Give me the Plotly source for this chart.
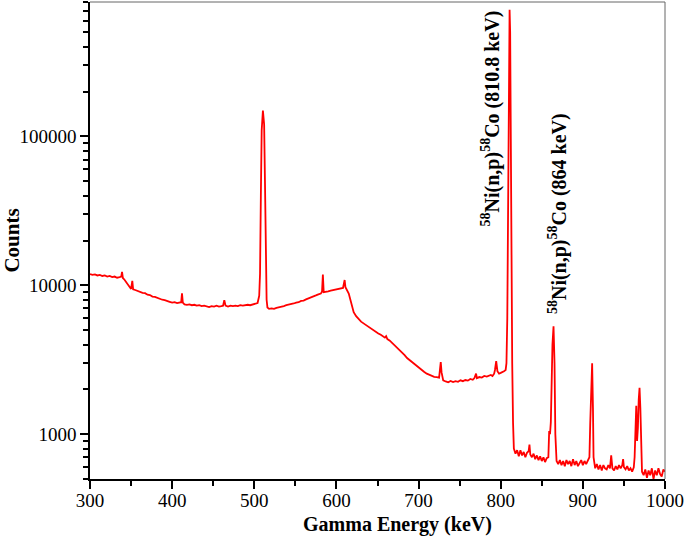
import plotly.graph_objects as go

energy_kev = [
    300, 303, 306, 309, 312, 315, 318, 321, 324, 327, 330, 333, 336, 338, 339, 340,
    342, 345, 348, 350, 351.5, 352.5, 355, 358, 361, 364, 367, 370, 373, 376, 379, 382,
    385, 388, 391, 394, 397, 400, 403, 406, 409, 411, 412, 413, 415, 418, 421, 424,
    427, 430, 433, 436, 439, 442, 445, 448, 451, 454, 457, 460, 462, 463.5, 465, 468,
    471, 474, 477, 480, 483, 486, 489, 492, 495, 498, 501, 504, 506, 507, 508, 509,
    510.5, 512, 513, 514, 515, 516, 518, 521, 524, 527, 530, 533, 536, 539, 542, 545,
    548, 551, 554, 557, 560, 563, 566, 569, 572, 575, 578, 581, 582.5, 583.5, 584.5, 587,
    590, 593, 596, 599, 602, 605, 608, 609, 610, 611, 613, 615, 617, 619, 621, 624,
    627, 630, 633, 636, 639, 642, 645, 648, 651, 654, 657, 659, 660.5, 662, 665, 668,
    671, 674, 677, 680, 683, 686, 689, 692, 695, 698, 701, 704, 707, 710, 713, 716,
    719, 722, 725, 726, 727, 728, 730, 733, 736, 739, 742, 745, 748, 751, 754, 757,
    760, 763, 766, 768, 770, 771, 774, 777, 780, 783, 786, 788, 790, 792, 793, 794.5,
    796, 798, 800, 802, 804, 806, 807, 808, 809, 810, 810.8, 811.5, 812, 813, 814, 815,
    816, 818, 820, 822, 824, 826, 828, 830, 832, 834, 835, 836, 838, 840, 842, 844,
    846, 848, 850, 852, 854, 856, 858, 859, 860, 861, 862, 863, 864.3, 865.5, 866.5, 868,
    870, 872, 874, 876, 878, 880, 882, 884, 886, 888, 890, 892, 894, 896, 898, 900,
    902, 904, 906, 908, 909, 910, 911.3, 912.3, 913, 915, 917, 919, 921, 923, 925, 927,
    929, 931, 933, 934.5, 936, 938, 940, 942, 944, 946, 948, 949, 950, 952, 954, 956,
    958, 960, 962, 963, 964, 965, 966, 967, 968, 969, 970, 971, 972, 974, 976, 978,
    980, 982, 984, 986, 988, 990, 992, 994, 996, 998, 1000,
]

counts = [
    11900, 11750, 11850, 11650, 11750, 11550, 11650, 11450, 11550, 11350, 11450, 11250, 11350, 11450, 12300, 11200,
    10900, 10300, 9700, 9450, 10700, 9400, 9300, 9150, 9100, 8900, 8850, 8650, 8600, 8400, 8350, 8200,
    8150, 8000, 7950, 7800, 7750, 7650, 7700, 7600, 7650, 7700, 8850, 7650, 7450, 7400, 7450, 7350,
    7400, 7300, 7350, 7250, 7300, 7200, 7150, 7250, 7200, 7300, 7200, 7250, 7300, 7950, 7300, 7200,
    7300, 7250, 7300, 7250, 7350, 7300, 7350, 7400, 7350, 7450, 7500, 7600, 8500, 12000, 40000, 110000,
    149000, 120000, 50000, 15000, 8000, 7100, 6950, 7000, 6950, 7050, 7100, 7200, 7250, 7350, 7400, 7500,
    7550, 7650, 7700, 7850, 7900, 8050, 8150, 8300, 8400, 8550, 8700, 8800, 9100, 11800, 9000, 9000,
    9100, 9200, 9300, 9350, 9450, 9500, 9600, 10200, 10850, 9700, 9300, 8800, 8000, 7200, 6600, 6200,
    5900, 5700, 5550, 5400, 5250, 5100, 5000, 4850, 4750, 4650, 4550, 4450, 4550, 4350, 4250, 4100,
    3950, 3800, 3650, 3500, 3400, 3250, 3150, 3050, 2950, 2850, 2750, 2700, 2620, 2550, 2500, 2480,
    2430, 2420, 2400, 2700, 3050, 2600, 2300, 2260, 2230, 2280, 2240, 2270, 2250, 2300, 2270, 2310,
    2290, 2350, 2320, 2380, 2550, 2380, 2420, 2400, 2460, 2440, 2480, 2500, 2460, 2550, 2700, 3100,
    2650, 2550, 2580, 2600, 2650, 2700, 3000, 6000, 60000, 400000, 710000, 500000, 150000, 20000, 3000, 1200,
    800, 740, 780, 710, 780, 720, 760, 700, 750, 770, 850, 730, 700, 740, 680, 720,
    670, 710, 660, 700, 650, 690, 700, 1050, 1000, 1200, 2500, 4000, 5300, 3000, 1000, 660,
    630, 670, 620, 660, 610, 670, 630, 660, 610, 680, 620, 660, 610, 640, 670, 620,
    660, 630, 670, 700, 1200, 2200, 3000, 1500, 700, 590, 630, 580, 620, 570, 620, 590,
    580, 620, 590, 720, 590, 570, 610, 580, 620, 590, 620, 680, 600, 580, 610, 570,
    590, 560, 600, 700, 1300, 1550, 900, 1100, 1700, 2050, 1500, 700, 560, 530, 580, 510,
    570, 530, 590, 500, 570, 530, 590, 540, 520, 580, 560,
]

x_tick_vals = [300, 400, 500, 600, 700, 800, 900, 1000]
x_minor_vals = [350, 450, 550, 650, 750, 850, 950]
y_tick_vals = [1000, 10000, 100000]
y_tick_text = ["1000", "10000", "100000"]
y_minor_vals = [500, 600, 700, 800, 900,
                2000, 3000, 4000, 5000, 6000, 7000, 8000, 9000,
                20000, 30000, 40000, 50000, 60000, 70000, 80000, 90000,
                200000, 300000, 400000, 500000, 600000, 700000, 800000]

label_a = "<sup>58</sup>Ni(n,p)<sup>58</sup>Co (810.8 keV)"
label_b = "<sup>58</sup>Ni(n,p)<sup>58</sup>Co (864 keV)"
x_title = "Gamma Energy (keV)"
y_title = "Counts"

FONT = "Liberation Serif, Times New Roman, serif"

fig = go.Figure()
fig.add_trace(go.Scatter(
    x=energy_kev, y=counts, mode="lines",
    line=dict(color="#ff0000", width=1.8),
    showlegend=False, hoverinfo="skip",
))

fig.update_layout(
    width=685, height=537,
    margin=dict(l=90, r=20, t=2, b=58),
    paper_bgcolor="white", plot_bgcolor="white",
    font=dict(family=FONT, size=19, color="black"),
)

fig.update_xaxes(
    range=[300, 1000], showgrid=False, zeroline=False, automargin=False,
    showline=True, linecolor="black", linewidth=1.6, mirror=False,
    ticks="outside", ticklen=8, tickwidth=1.6, tickcolor="black",
    tickvals=x_tick_vals, ticktext=[str(v) for v in x_tick_vals],
    tickfont=dict(family=FONT, size=19), ticklabelstandoff=-5,
    minor=dict(tickvals=x_minor_vals, ticks="outside", ticklen=5, tickwidth=1.6, tickcolor="black", showgrid=False),
)

fig.update_yaxes(
    type="log", range=[2.699, 5.903], showgrid=False, zeroline=False, automargin=False,
    showline=True, linecolor="black", linewidth=1.6, mirror=False,
    ticks="outside", ticklen=8, tickwidth=1.6, tickcolor="black",
    tickvals=y_tick_vals, ticktext=y_tick_text,
    tickfont=dict(family=FONT, size=19),
    minor=dict(tickvals=y_minor_vals, ticks="outside", ticklen=5, tickwidth=1.6, tickcolor="black", showgrid=False),
    title=dict(text="<b>" + y_title + "</b>", font=dict(family=FONT, size=21), standoff=4),
)

# x-axis title placed as in the reference (slightly right of centre)
fig.add_annotation(xref="paper", yref="paper", x=0.534, y=-0.096,
                   text="<b>" + x_title + "</b>", showarrow=False,
                   xanchor="center", yanchor="middle",
                   font=dict(family=FONT, size=20, color="black"))

# thin grey frame on top and right
fig.add_shape(type="line", xref="paper", yref="paper", x0=0, x1=1, y0=1, y1=1,
              line=dict(color="#666666", width=1))
fig.add_shape(type="line", xref="paper", yref="paper", x0=1, x1=1, y0=0, y1=1,
              line=dict(color="#666666", width=1))

fig.add_annotation(x=788, y=5.12, xref="x", yref="y", text="<b>" + label_a + "</b>",
                   textangle=-90, showarrow=False,
                   font=dict(family=FONT, size=20, color="black"))
fig.add_annotation(x=870, y=4.48, xref="x", yref="y", text="<b>" + label_b + "</b>",
                   textangle=-90, showarrow=False,
                   font=dict(family=FONT, size=20, color="black"))

fig.write_html("out.html")
